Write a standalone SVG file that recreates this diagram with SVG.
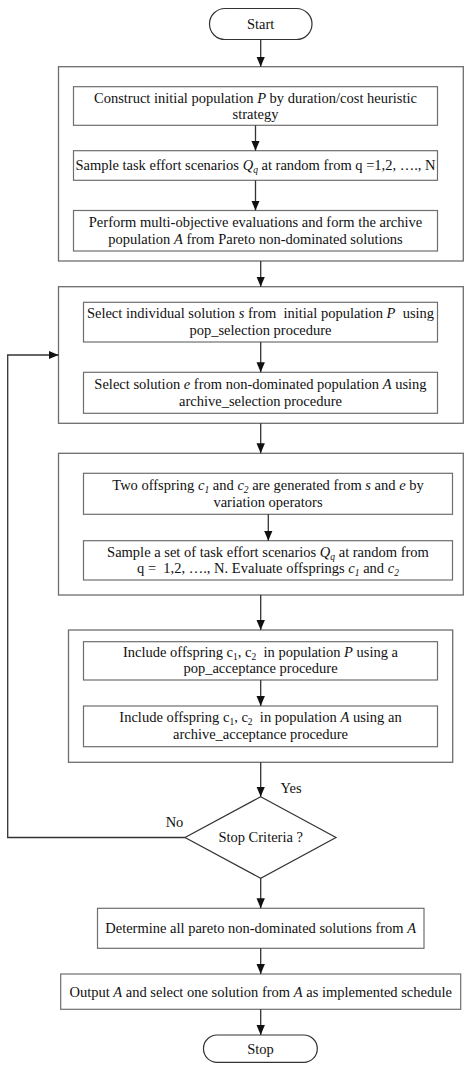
<svg xmlns="http://www.w3.org/2000/svg" width="474" height="1068" viewBox="0 0 474 1068">
<style>
  .box { fill: #fff; stroke: #6e6e6e; stroke-width: 1.2; }
  .outer { fill: #fff; stroke: #6e6e6e; stroke-width: 1.3; }
  .term { fill: #fff; stroke: #333; stroke-width: 1.2; }
  .conn { fill: none; stroke: #333; stroke-width: 1.3; }
  text { font-family: "Liberation Serif", "Times New Roman", serif; font-size: 14.5px; fill: #111; text-anchor: middle; }
  .i { font-style: italic; }
  .sub { font-size: 9.5px; }
</style>
<defs>
  <marker id="ah" markerUnits="userSpaceOnUse" markerWidth="10" markerHeight="10" viewBox="0 0 10 10" refX="10" refY="5" orient="auto">
    <path d="M0,0.8 L10,5 L0,9.2 Z" fill="#111"/>
  </marker>
</defs>
<rect width="474" height="1068" fill="#fff"/>

<g id="start">
  <rect class="term" x="209.5" y="8.5" width="102.5" height="31" rx="15.5"/>
  <text x="260.7" y="29">Start</text>
</g>

<g id="init-block">
  <rect class="outer" x="58.5" y="66.7" width="404.8" height="194.3"/>
</g>
<g id="construct">
  <rect class="box" x="73.5" y="86.7" width="364" height="38.6"/>
  <text x="255.5" y="102.5">Construct initial population <tspan class="i">P</tspan> by duration/cost heuristic</text>
  <text x="255.5" y="119">strategy</text>
</g>
<g id="sample1">
  <rect class="box" x="73.5" y="150.7" width="364" height="29.6"/>
  <text x="255.5" y="170">Sample task effort scenarios <tspan class="i">Q</tspan><tspan class="i sub" dy="3">q</tspan><tspan dy="-3"> at random from q =1,2, …., N</tspan></text>
</g>
<g id="evaluate">
  <rect class="box" x="73.5" y="210.5" width="364" height="40.5"/>
  <text x="255.5" y="227">Perform multi-objective evaluations and form the archive</text>
  <text x="255.5" y="243.5">population <tspan class="i">A</tspan> from Pareto non-dominated solutions</text>
</g>

<g id="select-block">
  <rect class="outer" x="58.5" y="286.7" width="404.8" height="136.6"/>
</g>
<g id="pop-select">
  <rect class="box" x="83.5" y="302.3" width="354" height="39.7"/>
  <text x="260.5" y="318">Select individual solution <tspan class="i">s</tspan> from &#160;initial population <tspan class="i">P</tspan> &#160;using</text>
  <text x="260.5" y="334.5">pop_selection procedure</text>
</g>
<g id="archive-select">
  <rect class="box" x="83.5" y="372.3" width="354" height="41"/>
  <text x="260.5" y="389">Select solution <tspan class="i">e</tspan> from non-dominated population <tspan class="i">A</tspan> using</text>
  <text x="260.5" y="405.5">archive_selection procedure</text>
</g>

<g id="variation-block">
  <rect class="outer" x="58.5" y="453.3" width="404.8" height="141.7"/>
</g>
<g id="offspring">
  <rect class="box" x="83.5" y="473.3" width="369" height="41"/>
  <text x="268" y="490">Two offspring <tspan class="i">c</tspan><tspan class="i sub" dy="3">1</tspan><tspan dy="-3"> and </tspan><tspan class="i">c</tspan><tspan class="i sub" dy="3">2</tspan><tspan dy="-3"> are generated from </tspan><tspan class="i">s</tspan> and <tspan class="i">e</tspan> by</text>
  <text x="268" y="506.5">variation operators</text>
</g>
<g id="sample2">
  <rect class="box" x="83.5" y="540.7" width="369" height="39.3"/>
  <text x="268" y="557">Sample a set of task effort scenarios <tspan class="i">Q</tspan><tspan class="i sub" dy="3">q</tspan><tspan dy="-3"> at random from</tspan></text>
  <text x="268" y="573">q = &#160;1,2, …., N. Evaluate offsprings <tspan class="i">c</tspan><tspan class="i sub" dy="3">1</tspan><tspan dy="-3"> and </tspan><tspan class="i">c</tspan><tspan class="i sub" dy="3">2</tspan></text>
</g>

<g id="accept-block">
  <rect class="outer" x="68.5" y="630" width="384.2" height="132.3"/>
</g>
<g id="pop-accept">
  <rect class="box" x="83.5" y="641.7" width="354" height="38.3"/>
  <text x="260.5" y="656.5">Include offspring c<tspan class="sub" dy="3">1</tspan><tspan dy="-3">, c</tspan><tspan class="sub" dy="3">2</tspan><tspan dy="-3"> &#160;in population </tspan><tspan class="i">P</tspan> using a</text>
  <text x="260.5" y="673">pop_acceptance procedure</text>
</g>
<g id="archive-accept">
  <rect class="box" x="83.5" y="706" width="354" height="40.7"/>
  <text x="260.5" y="722">Include offspring c<tspan class="sub" dy="3">1</tspan><tspan dy="-3">, c</tspan><tspan class="sub" dy="3">2</tspan><tspan dy="-3"> &#160;in population </tspan><tspan class="i">A</tspan> using an</text>
  <text x="260.5" y="738.5">archive_acceptance procedure</text>
</g>

<g id="stop-criteria">
  <polygon class="term" points="260.7,796.7 336,837.5 260.7,878.3 185,837.5"/>
  <text x="260.7" y="842">Stop Criteria ?</text>
</g>

<g id="determine">
  <rect class="box" x="97.5" y="908.3" width="326.5" height="40"/>
  <text x="260.7" y="933">Determine all pareto non-dominated solutions from <tspan class="i">A</tspan></text>
</g>
<g id="output">
  <rect class="box" x="60.7" y="974" width="400" height="35.3"/>
  <text x="260.7" y="996.5">Output <tspan class="i">A</tspan> and select one solution from <tspan class="i">A</tspan> as implemented schedule</text>
</g>

<g id="stop">
  <rect class="term" x="203.5" y="1035" width="113.8" height="27.3" rx="13.6"/>
  <text x="260.5" y="1053.5">Stop</text>
</g>

<g id="connectors">
  <line class="conn" x1="260.7" y1="39.5" x2="260.7" y2="66.7" marker-end="url(#ah)"/>
  <line class="conn" x1="255.5" y1="125.3" x2="255.5" y2="150.7" marker-end="url(#ah)"/>
  <line class="conn" x1="255.5" y1="180.3" x2="255.5" y2="210.5" marker-end="url(#ah)"/>
  <line class="conn" x1="260.7" y1="261" x2="260.7" y2="286.7" marker-end="url(#ah)"/>
  <line class="conn" x1="260.7" y1="342" x2="260.7" y2="372.3" marker-end="url(#ah)"/>
  <line class="conn" x1="260.7" y1="423.3" x2="260.7" y2="453.3" marker-end="url(#ah)"/>
  <line class="conn" x1="268.3" y1="514.3" x2="268.3" y2="540.7" marker-end="url(#ah)"/>
  <line class="conn" x1="260.7" y1="595" x2="260.7" y2="630" marker-end="url(#ah)"/>
  <line class="conn" x1="260.7" y1="680" x2="260.7" y2="706" marker-end="url(#ah)"/>
  <line class="conn" x1="260.7" y1="762.3" x2="260.7" y2="796.7" marker-end="url(#ah)"/>
  <line class="conn" x1="260.7" y1="878.3" x2="260.7" y2="908.3" marker-end="url(#ah)"/>
  <line class="conn" x1="260.7" y1="948.3" x2="260.7" y2="974" marker-end="url(#ah)"/>
  <line class="conn" x1="260.7" y1="1009.3" x2="260.7" y2="1035" marker-end="url(#ah)"/>
  <polyline class="conn" points="185,837.5 7.7,837.5 7.7,355 58.5,355" marker-end="url(#ah)"/>
  <text x="291" y="792.5">Yes</text>
  <text x="174.5" y="827">No</text>
</g>
</svg>
